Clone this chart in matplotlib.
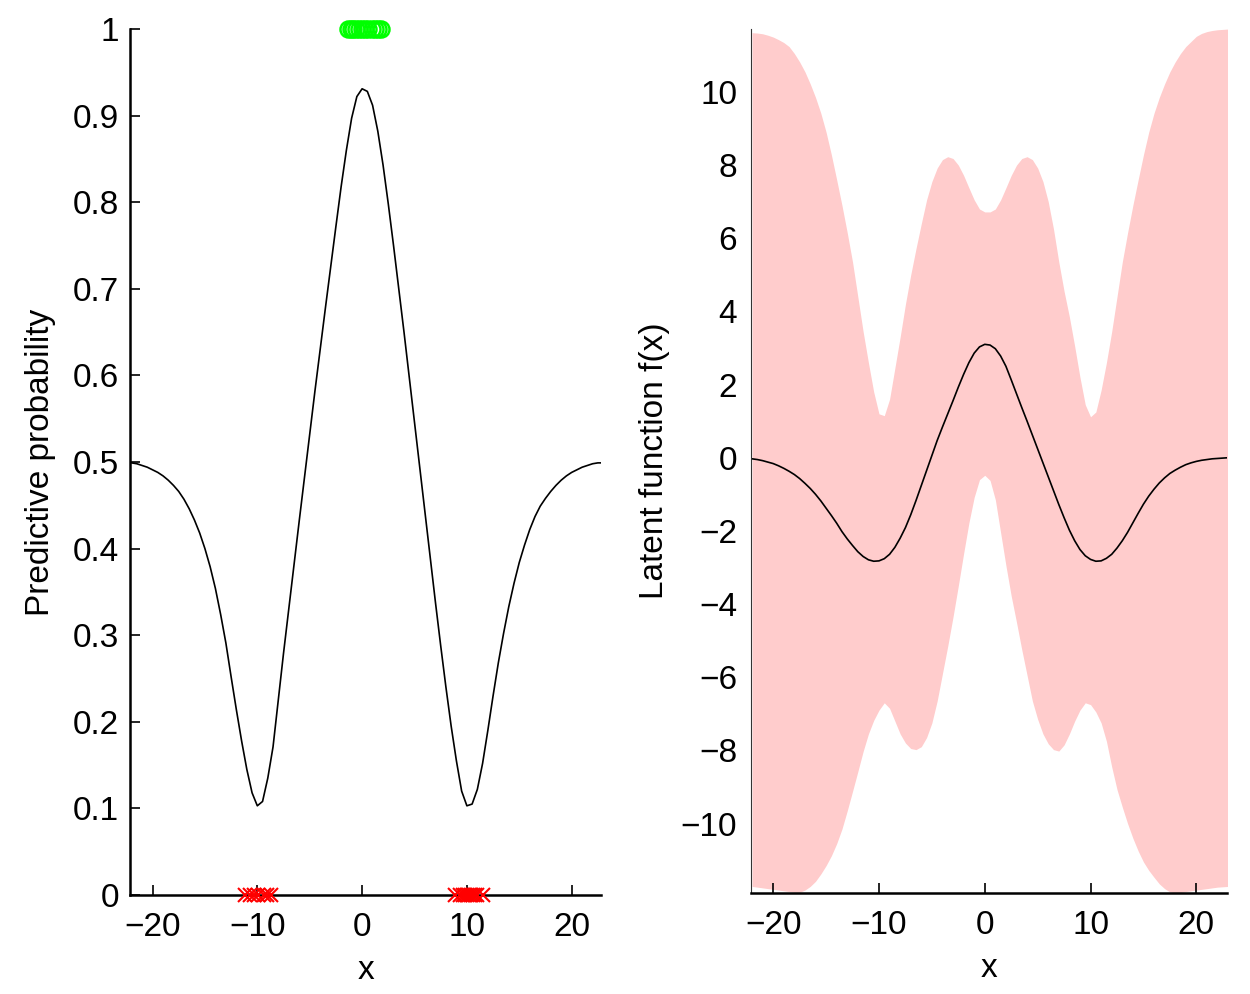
import matplotlib
matplotlib.use("Agg")
import matplotlib.pyplot as plt
from matplotlib.ticker import FormatStrFormatter

# sample grid shared by both panels, -22 .. 23 in steps of 0.5
xs = [-22.0, -21.5, -21.0, -20.5, -20.0, -19.5, -19.0, -18.5, -18.0, -17.5,
      -17.0, -16.5, -16.0, -15.5, -15.0, -14.5, -14.0, -13.5, -13.0, -12.5,
      -12.0, -11.5, -11.0, -10.5, -10.0, -9.5, -9.0, -8.5, -8.0, -7.5,
      -7.0, -6.5, -6.0, -5.5, -5.0, -4.5, -4.0, -3.5, -3.0, -2.5,
      -2.0, -1.5, -1.0, -0.5, 0.0, 0.5, 1.0, 1.5, 2.0, 2.5,
      3.0, 3.5, 4.0, 4.5, 5.0, 5.5, 6.0, 6.5, 7.0, 7.5,
      8.0, 8.5, 9.0, 9.5, 10.0, 10.5, 11.0, 11.5, 12.0, 12.5,
      13.0, 13.5, 14.0, 14.5, 15.0, 15.5, 16.0, 16.5, 17.0, 17.5,
      18.0, 18.5, 19.0, 19.5, 20.0, 20.5, 21.0, 21.5, 22.0, 22.5, 23.0]

# predictive probability (left panel)
prob = [0.499, 0.498, 0.496, 0.494, 0.491, 0.488, 0.484, 0.479, 0.473, 0.466,
        0.457, 0.446, 0.433, 0.418, 0.400, 0.379, 0.354, 0.324, 0.291, 0.252,
        0.214, 0.178, 0.145, 0.118, 0.103, 0.108, 0.135, 0.171, 0.225, 0.279,
        0.330, 0.381, 0.432, 0.482, 0.532, 0.582, 0.630, 0.678, 0.725, 0.772,
        0.818, 0.860, 0.897, 0.922, 0.931, 0.928, 0.912, 0.882, 0.843, 0.798,
        0.750, 0.700, 0.650, 0.598, 0.546, 0.494, 0.442, 0.390, 0.338, 0.288,
        0.240, 0.195, 0.155, 0.120, 0.103, 0.105, 0.122, 0.152, 0.190, 0.230,
        0.268, 0.302, 0.333, 0.360, 0.384, 0.404, 0.422, 0.437, 0.449, 0.458,
        0.466, 0.473, 0.479, 0.484, 0.488, 0.491, 0.494, 0.496, 0.498, 0.499, 0.499]

# latent mean (right panel)
f_mean = [-0.03, -0.05, -0.08, -0.12, -0.16, -0.22, -0.29, -0.37, -0.46, -0.57,
          -0.70, -0.84, -1.00, -1.18, -1.38, -1.58, -1.79, -2.02, -2.22, -2.40,
          -2.57, -2.70, -2.79, -2.83, -2.82, -2.76, -2.64, -2.45, -2.20, -1.91,
          -1.56, -1.17, -0.76, -0.35, 0.06, 0.47, 0.84, 1.20, 1.56, 1.93,
          2.28, 2.60, 2.86, 3.03, 3.10, 3.08, 2.98, 2.78, 2.50, 2.13,
          1.75, 1.37, 1.00, 0.62, 0.24, -0.14, -0.52, -0.90, -1.28, -1.64,
          -1.98, -2.27, -2.51, -2.68, -2.78, -2.83, -2.82, -2.75, -2.64, -2.47,
          -2.27, -2.04, -1.78, -1.52, -1.27, -1.05, -0.86, -0.69, -0.55, -0.43,
          -0.34, -0.26, -0.19, -0.14, -0.10, -0.07, -0.05, -0.03, -0.02, -0.01, 0.00]

# upper and lower edge of the shaded band
f_upper = [11.62, 11.61, 11.59, 11.55, 11.50, 11.43, 11.35, 11.24, 11.05, 10.82,
           10.55, 10.22, 9.85, 9.42, 8.90, 8.28, 7.60, 6.90, 6.15, 5.35,
           4.40, 3.45, 2.60, 1.80, 1.20, 1.15, 1.60, 2.45, 3.30, 4.20,
           5.00, 5.72, 6.40, 7.05, 7.55, 7.92, 8.15, 8.23, 8.18, 8.00,
           7.72, 7.38, 7.05, 6.80, 6.72, 6.72, 6.80, 7.05, 7.38, 7.72,
           8.00, 8.18, 8.23, 8.15, 7.92, 7.55, 7.00, 6.25, 5.35, 4.55,
           3.85, 3.05, 2.20, 1.45, 1.12, 1.25, 1.85, 2.60, 3.45, 4.40,
           5.35, 6.15, 6.90, 7.60, 8.28, 8.90, 9.42, 9.85, 10.22, 10.55,
           10.82, 11.05, 11.24, 11.38, 11.52, 11.60, 11.65, 11.68, 11.70, 11.71, 11.72]
f_lower = [-11.72, -11.74, -11.76, -11.78, -11.80, -11.82, -11.84, -11.86, -11.88, -11.88,
           -11.82, -11.72, -11.58, -11.38, -11.15, -10.88, -10.55, -10.15, -9.65, -9.12,
           -8.58, -8.03, -7.55, -7.18, -6.90, -6.70, -6.85, -7.20, -7.55, -7.80,
           -7.95, -7.98, -7.90, -7.65, -7.25, -6.65, -5.90, -5.15, -4.35, -3.50,
           -2.62, -1.78, -1.08, -0.60, -0.48, -0.62, -1.15, -2.05, -2.95, -3.78,
           -4.50, -5.25, -5.95, -6.65, -7.15, -7.55, -7.82, -7.98, -8.02, -7.85,
           -7.55, -7.20, -6.90, -6.70, -6.75, -6.95, -7.25, -7.75, -8.45, -9.07,
           -9.55, -10.00, -10.40, -10.75, -11.05, -11.28, -11.47, -11.65, -11.78, -11.87,
           -11.90, -11.89, -11.86, -11.84, -11.82, -11.80, -11.78, -11.76, -11.74, -11.73, -11.72]

# training points
x_pos = [-1.3, -1.1, -0.9, -0.6, -0.3, 0.0, 0.3, 0.6, 0.9, 1.2, 1.5, 1.77]
x_neg = [-11.2, -10.7, -10.3, -9.9, -9.4, -9.1, -8.7,
         8.9, 9.3, 9.6, 9.8, 10.0, 10.2, 10.4, 10.6, 10.8, 11.0, 11.5]

plt.rcParams['font.family'] = ['Liberation Sans', 'DejaVu Sans']
plt.rcParams['font.size'] = 24

fig = plt.figure(figsize=(12.5, 9.94), dpi=100)
ax1 = fig.add_axes([0.104, 0.0996, 0.3768, 0.8712])
ax2 = fig.add_axes([0.6008, 0.1016, 0.3808, 0.8692])

# left: predictive probability
ax1.plot(xs, prob, color='black', lw=1.2)
ax1.plot(x_pos, [1] * len(x_pos), 'o', ms=11.5, mfc='none', mec='#00ff00',
         mew=1.8, clip_on=False, zorder=5)
ax1.plot(x_neg, [0] * len(x_neg), 'x', ms=10, color='red', mew=1.5,
         clip_on=False, zorder=5)
ax1.set_xlim(-22.15, 22.8)
ax1.set_ylim(0, 1)
ax1.set_yticks([0, 0.1, 0.2, 0.3, 0.4, 0.5, 0.6, 0.7, 0.8, 0.9, 1])
ax1.yaxis.set_major_formatter(FormatStrFormatter('%g'))
ax1.set_xticks([-20, -10, 0, 10, 20])
ax1.set_xlabel('x', labelpad=9)
ax1.set_ylabel('Predictive probability', labelpad=12)

# right: latent function
ax2.fill_between(xs, f_lower, f_upper, color='#ffcccc', lw=0)
ax2.plot(xs, f_mean, color='black', lw=1.2)
ax2.set_xlim(-22.1, 22.9)
ax2.set_ylim(-11.9, 11.72)
ax2.set_yticks([-10, -8, -6, -4, -2, 0, 2, 4, 6, 8, 10])
ax2.set_xticks([-20, -10, 0, 10, 20])
ax2.set_xlabel('x', labelpad=9)
ax2.set_ylabel('Latent function f(x)', labelpad=8)

for ax in (ax1, ax2):
    ax.spines['top'].set_visible(False)
    ax.spines['right'].set_visible(False)
    ax.spines['bottom'].set_linewidth(1.8)
    ax.tick_params(direction='in', length=7, width=1.2, pad=8)
    ax.tick_params(axis='x', pad=12)
ax1.spines['left'].set_linewidth(1.8)
ax2.spines['left'].set_linewidth(0.8)
ax2.spines['left'].set_color('#333333')
ax2.tick_params(axis='y', length=0, pad=10)

fig.savefig('out.png', dpi=100)
